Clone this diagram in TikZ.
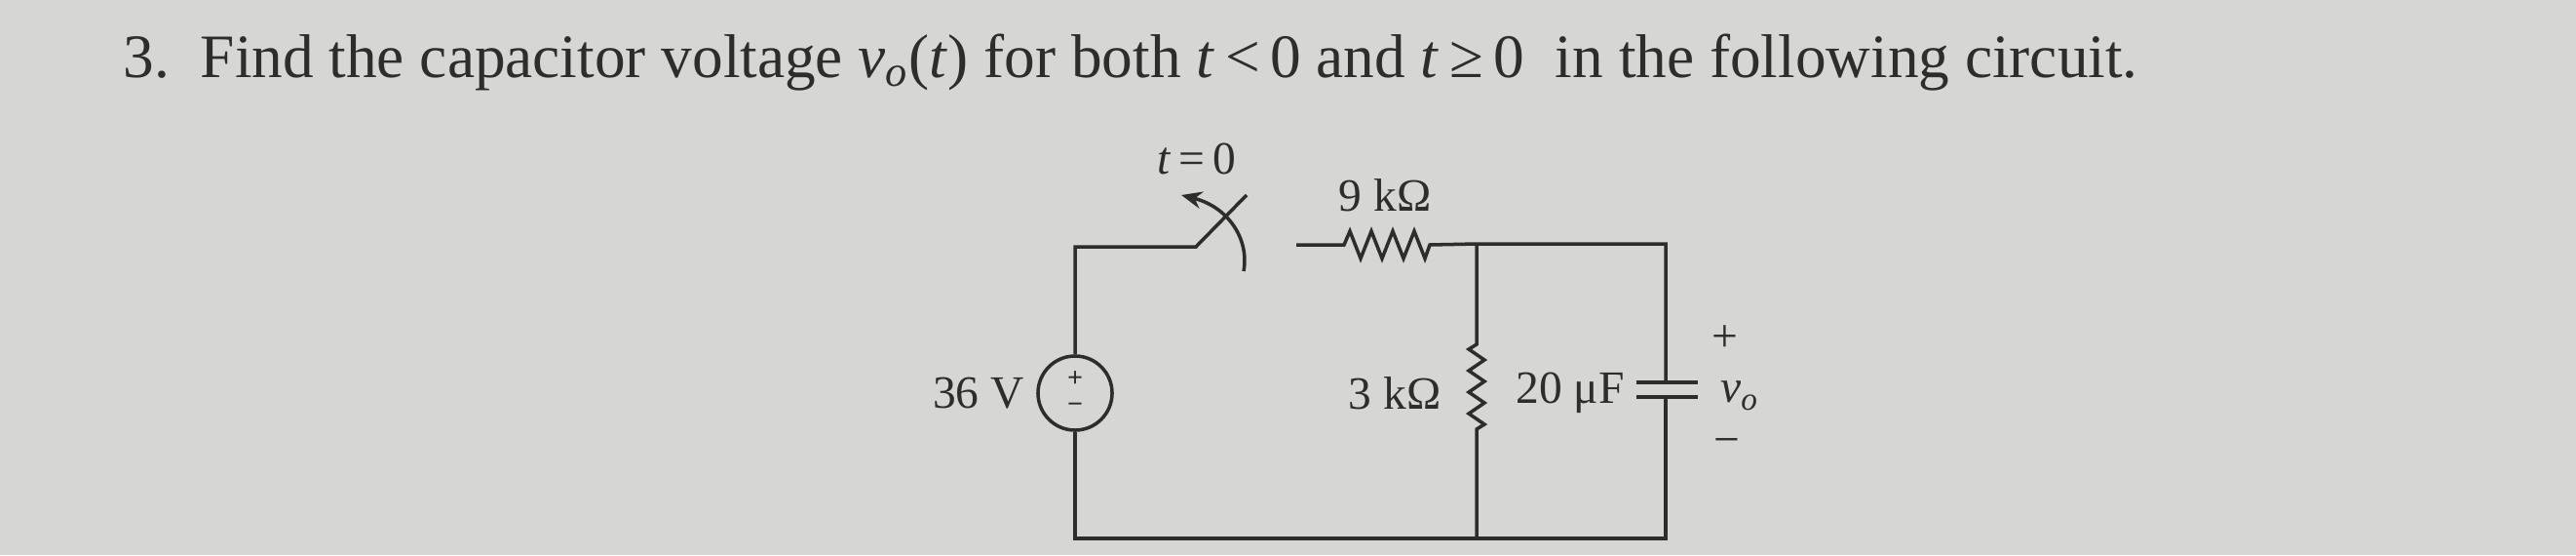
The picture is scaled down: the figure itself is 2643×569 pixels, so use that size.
\documentclass[tikz,border=0pt]{standalone}
\usepackage{fontspec}
\setmainfont{Liberation Serif}
\usetikzlibrary{arrows.meta}
\definecolor{paper}{RGB}{214,214,210}
\definecolor{ink}{RGB}{45,45,45}
\tikzset{wire/.style={draw=ink,line width=1pt},lbl/.style={text=ink,font=\fontsize{13.5}{15}\selectfont,inner sep=0pt}}
\begin{document}
\begin{tikzpicture}[x=0.01cm,y=-0.01cm]
\fill[paper] (0,0) rectangle (2643,569);
\useasboundingbox (0,0) rectangle (2643,569);
\node[anchor=west,text=ink,font=\fontsize{18}{20}\selectfont,inner sep=0pt] (title) at (126,64) {3.\ \ Find the capacitor voltage \textit{v\textsubscript{o}}(\textit{t}) for both \textit{t}\,<\,0 and \textit{t}\,≥\,0\ \ in the following circuit.};
\coordinate (tl) at (1103,253);
\coordinate (piv) at (1227,253);
\coordinate (sw) at (1279,200);
\coordinate (rc) at (1330,251);
\coordinate (j) at (1515,250);
\coordinate (tr) at (1709,250);
\coordinate (br) at (1709,552);
\coordinate (bj) at (1515,552);
\coordinate (bl) at (1103,552);
\node[circle,draw=ink,line width=1pt,minimum size=0.76cm,inner sep=0pt] (src) at (1103,403) {};
\node[text=ink,font=\bfseries\fontsize{8}{8}\selectfont,inner sep=0pt] (pl) at (1103,389) {+};
\node[text=ink,font=\bfseries\fontsize{8}{8}\selectfont,inner sep=0pt] (mn) at (1103,418) {−};
\draw[wire] (src.north) -- (tl) -- (piv) -- (sw);
\draw[draw=ink,line width=1pt,-{Stealth[length=6pt,width=5pt]}] (1276,278) .. controls (1282,245) and (1260,212) .. (1212,200);
\draw[wire] (rc) -- (1379,251) -- ++(6,-14) -- ++(11,28) -- ++(11,-28) -- ++(11,28) -- ++(11,-28) -- ++(11,28) -- ++(11,-28) -- ++(11,28) -- (1467,251) -- (j) -- (tr) -- (1709,392);
\draw[wire] (1679,392) -- (1742,392);
\draw[wire] (1679,407) -- (1742,407);
\draw[wire] (1709,407) -- (br) -- (bj) -- (bl) -- (src.south);
\draw[wire] (j) -- (1515,353) -- ++(-8,5) -- ++(16,11) -- ++(-16,11) -- ++(16,11) -- ++(-16,11) -- ++(16,11) -- ++(-16,11) -- ++(16,11) -- ++(-8,5) -- (bj);
\node[lbl] (l36) at (1004,403) {36 V};
\node[lbl] (t0) at (1228,163) {\textit{t}\,=\,0};
\node[lbl] (l9) at (1421,200) {9 kΩ};
\node[lbl] (l3) at (1431,403) {3 kΩ};
\node[lbl] (l20) at (1611,403) {20 μF};
\node[lbl] (vo) at (1785,406) {\textit{v\textsubscript{o}}};
\node[lbl] (vp) at (1770,347) {+};
\node[lbl] (vm) at (1772,458) {−};
\end{tikzpicture}
\end{document}
